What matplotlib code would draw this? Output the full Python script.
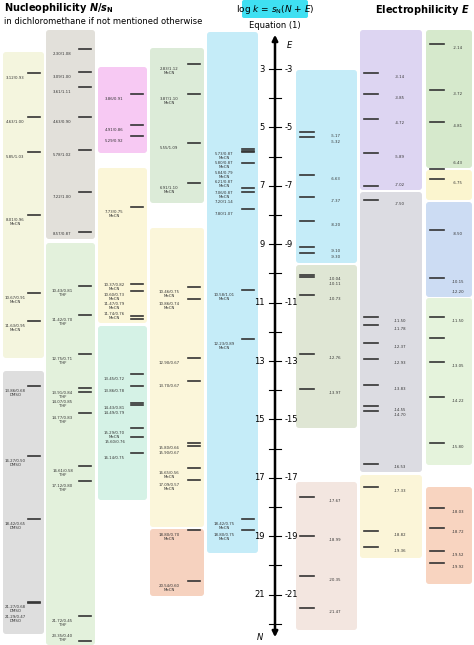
import matplotlib.pyplot as plt
from matplotlib.patches import FancyBboxPatch

# ---------------- data: nucleophiles (N, sN, solvent) ----------------
col1_yellow = [(3.12, 0.93, ""), (4.63, 1.00, ""), (5.85, 1.03, ""), (8.01, 0.96, "MeCN"),
               (10.67, 0.91, "MeCN"), (11.63, 0.95, "MeCN")]
col1_gray = [(13.86, 0.68, "DMSO"), (16.27, 0.50, "DMSO"), (18.42, 0.65, "DMSO"),
             (21.27, 0.68, "DMSO"), (21.29, 0.47, "DMSO")]
col2_gray = [(2.30, 1.08, ""), (3.09, 1.00, ""), (3.61, 1.11, ""), (4.63, 0.90, ""),
             (5.78, 1.02, ""), (7.22, 1.00, ""), (8.57, 0.87, "")]
col2_green = [(10.43, 0.81, "THF"), (11.42, 0.70, "THF"), (12.75, 0.71, "THF"),
              (13.91, 0.84, "THF"), (14.07, 0.85, "THF"), (14.77, 0.83, "THF"),
              (16.61, 0.58, "THF"), (17.12, 0.80, "THF"), (21.72, 0.45, "THF"),
              (23.35, 0.40, "THF")]
col3_pink = [(3.86, 0.91, ""), (4.91, 0.86, ""), (5.29, 0.92, "")]
col3_yellow = [(7.73, 0.75, "MeCN"), (10.37, 0.82, "MeCN"), (10.60, 0.73, "MeCN"),
               (11.47, 0.79, "MeCN"), (11.74, 0.76, "MeCN")]
col3_teal = [(13.45, 0.72, ""), (13.86, 0.78, ""), (14.43, 0.81, ""), (14.49, 0.79, ""),
             (15.29, 0.70, "MeCN"), (15.60, 0.76, ""), (16.14, 0.75, "")]
col4_green = [(2.83, 1.12, "MeCN"), (3.87, 1.10, "MeCN"), (5.55, 1.09, ""), (6.91, 1.10, "MeCN")]
col4_yellow = [(10.46, 0.75, "MeCN"), (10.86, 0.74, "MeCN"), (12.90, 0.67, ""),
               (13.70, 0.67, ""), (15.80, 0.66, ""), (15.90, 0.67, ""),
               (16.65, 0.56, "MeCN"), (17.09, 0.57, "MeCN")]
col4_orange = [(18.80, 0.70, "MeCN"), (20.54, 0.60, "MeCN")]
col5_cyan = [(5.73, 0.87, "MeCN"), (5.80, 0.87, "MeCN"), (5.84, 0.79, "MeCN"),
             (6.21, 0.87, "MeCN"), (7.06, 0.87, "MeCN"), (7.20, 1.14, ""), (7.80, 1.07, ""),
             (10.58, 1.01, "MeCN"), (12.23, 0.89, "MeCN"), (18.42, 0.75, "MeCN"),
             (18.80, 0.75, "MeCN")]

# ---------------- data: electrophiles E ----------------
e_cyan = [-5.17, -5.32, -6.63, -7.37, -8.20, -9.10, -9.30]
e_sage = [-10.04, -10.11, -10.73, -12.76, -13.97]
e_purple = [-3.14, -3.85, -4.72, -5.89, -7.02]
e_gray = [-7.50, -11.50, -11.78, -12.37, -12.93, -13.83, -14.55, -14.70, -16.53]
e_green = [-2.14, -3.72, -4.81, -6.43]
e_yellow = [-6.75]
e_blue = [-8.50, -10.15, -12.20]
e_lightgreen = [-11.50, -13.05, -14.22, -15.80]
e_rose = [-17.67, -18.99, -20.35, -21.47]
e_yellow2 = [-17.33, -18.82, -19.36]
e_orange = [-18.03, -18.72, -19.52, -19.92]

axis_ticks = list(range(3, 23))

# ---------------- layout (pixel coordinates) ----------------
W, H = 474, 645
fig = plt.figure(figsize=(W / 100, H / 100), dpi=100)
ax = fig.add_axes([0, 0, 1, 1])
ax.set_xlim(0, W)
ax.set_ylim(H, 0)
ax.axis("off")

Y0, DY = 69, 29.2
LINE = 4.2  # label line height in px


def ypos(v):
    return Y0 + DY * (abs(v) - 3)


def box(x0, y0, x1, y1, color):
    ax.add_patch(FancyBboxPatch((x0 + 3, y0 + 3), x1 - x0 - 6, y1 - y0 - 6,
                                boxstyle="round,pad=3", fc=color, ec="none", zorder=0))


def spread(wanted, heights, top, bottom):
    # push label tops apart so they do not overlap, keep them inside the box
    pos = []
    prev = top
    for w, h in zip(wanted, heights):
        p = max(w, prev)
        pos.append(p)
        prev = p + h + 1
    over = prev - 1 - bottom
    if over > 0:
        for i in range(len(pos) - 1, -1, -1):
            lim = bottom - heights[i] if i == len(pos) - 1 else pos[i + 1] - heights[i] - 1
            pos[i] = min(pos[i], lim)
    return pos


def nuc_group(x0, x1, y0, y1, color, items):
    box(x0, y0, x1, y1, color)
    texts, wanted, heights = [], [], []
    for n, s, solv in items:
        y = min(ypos(n), y1 - 4)
        ax.plot([x1 - 16, x1 - 4], [y, y], color="#333333", lw=1.2)
        texts.append(f"{n:.2f}/{s:.2f}" + (f"\n{solv}" if solv else ""))
        wanted.append(y + 3)
        heights.append(LINE * (2 if solv else 1))
    for t, p in zip(texts, spread(wanted, heights, y0 + 3, y1 - 3)):
        ax.text((x0 + x1 - 16) / 2, p, t, fontsize=2.8, ha="center", va="top",
                color="#333333", linespacing=1.0)


def el_group(x0, x1, y0, y1, color, items):
    box(x0, y0, x1, y1, color)
    ys = [ypos(e) for e in items]
    for y in ys:
        ax.plot([x0 + 4, x0 + 18], [y, y], color="#333333", lw=1.2)
    pos = spread([y + 2 for y in ys], [LINE] * len(ys), y0 + 3, y1 - 3)
    for e, p in zip(items, pos):
        ax.text((x0 + 18 + x1) / 2, p, f"{e:.2f}", fontsize=2.8, ha="center",
                va="top", color="#333333")


nuc_group(3, 44, 52, 358, "#f4f5de", col1_yellow)
nuc_group(3, 44, 371, 634, "#dedede", col1_gray)
nuc_group(46, 95, 30, 239, "#e2e0da", col2_gray)
nuc_group(46, 95, 243, 645, "#e3f1dc", col2_green)
nuc_group(98, 147, 67, 153, "#f7c9f3", col3_pink)
nuc_group(98, 147, 168, 323, "#fbf6d8", col3_yellow)
nuc_group(98, 147, 326, 500, "#d5f2e6", col3_teal)
nuc_group(150, 204, 48, 203, "#dcebd8", col4_green)
nuc_group(150, 204, 228, 527, "#fbf6da", col4_yellow)
nuc_group(150, 204, 529, 596, "#f6d2bf", col4_orange)
nuc_group(207, 258, 32, 553, "#c5ecf8", col5_cyan)

el_group(296, 357, 70, 263, "#c5ecf8", e_cyan)
el_group(296, 357, 265, 428, "#dfe6d4", e_sage)
el_group(360, 422, 30, 190, "#ddd5f2", e_purple)
el_group(360, 422, 192, 472, "#dcdce2", e_gray)
el_group(426, 472, 30, 168, "#d6e9cc", e_green)
el_group(426, 472, 170, 200, "#fbf5cf", e_yellow)
el_group(426, 472, 202, 297, "#ccdcf3", e_blue)
el_group(426, 472, 298, 465, "#e5f3dc", e_lightgreen)
el_group(296, 357, 482, 630, "#f3e6e0", e_rose)
el_group(360, 422, 475, 558, "#fbf5d8", e_yellow2)
el_group(426, 472, 487, 584, "#f8d4c0", e_orange)

# ---------------- central axis ----------------
AX = 275
ax.annotate("", xy=(AX, 32), xytext=(AX, 640),
            arrowprops=dict(arrowstyle="<|-|>", color="black", lw=1.8, mutation_scale=8))
for t in axis_ticks:
    y = ypos(t)
    ax.plot([AX - 6, AX + 6], [y, y], color="black", lw=0.8)
    if t % 2 == 1:
        ax.text(AX - 10, y, str(t), fontsize=6, ha="right", va="center")
        ax.text(AX + 10, y, f"-{t}", fontsize=6, ha="left", va="center")
ax.text(AX + 12, 46, "E", fontsize=6, style="italic", ha="left", va="center")
ax.text(AX - 12, 637, "N", fontsize=6, style="italic", ha="right", va="center")

# ---------------- headings ----------------
ax.text(4, 8, r"Nucleophilicity $\bfit{N}$/$\bfit{s}_\mathbf{N}$", fontsize=7,
        fontweight="bold", va="center")
ax.text(4, 21, "in dichloromethane if not mentioned otherwise", fontsize=6, va="center")
ax.add_patch(FancyBboxPatch((244, 2), 62, 14, boxstyle="round,pad=2",
                            fc="#3fe0f2", ec="none"))
ax.text(AX, 9, r"log $k$ = $s_\mathrm{N}$($N$ + $E$)", fontsize=6.5, ha="center",
        va="center")
ax.text(AX, 25, "Equation (1)", fontsize=6, ha="center", va="center")
ax.text(422, 10, r"Electrophilicity $\bfit{E}$", fontsize=7, fontweight="bold",
        ha="center", va="center")

fig.savefig("out.png", dpi=100)
